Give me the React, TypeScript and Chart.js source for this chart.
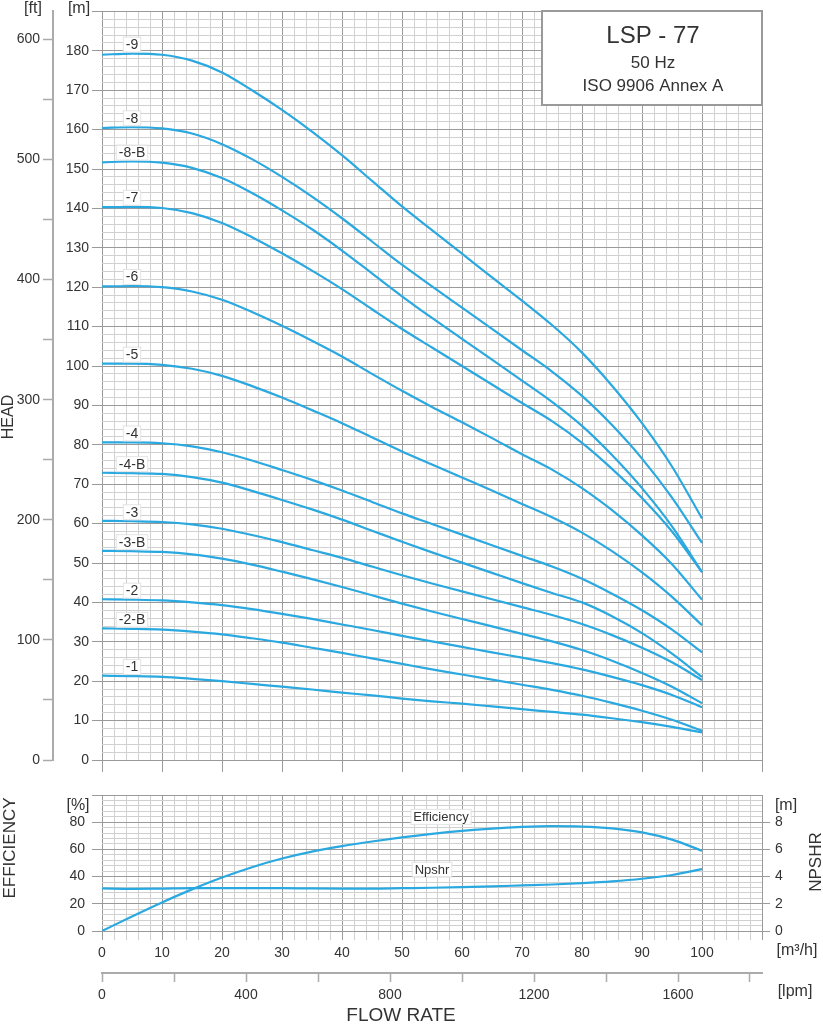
import React, { useEffect, useRef } from 'react';
import { Chart, registerables } from 'chart.js';

Chart.register(...registerables);

// ---------- data ----------
const FLOW_M3H = [0, 5, 10, 15, 20, 25, 30, 35, 40, 45, 50, 55, 60, 65, 70, 75, 80, 85, 90, 95, 100];

const HEAD_9 = [179.0, 179.3, 179.0, 177.5, 174.5, 170.0, 165.0, 159.5, 153.5, 147.0, 140.5, 134.5, 128.5, 122.5, 116.6, 110.4, 103.4, 95.0, 85.5, 74.5, 61.3];
const HEAD_8 = [160.4, 160.6, 160.3, 159.0, 156.3, 152.5, 148.0, 143.0, 137.5, 131.6, 125.7, 120.2, 114.8, 109.4, 104.0, 98.6, 92.4, 85.0, 76.5, 66.6, 55.1];
const HEAD_8B = [151.7, 151.9, 151.6, 150.3, 147.7, 143.9, 139.5, 134.7, 129.3, 123.5, 117.7, 112.2, 106.9, 101.6, 96.3, 90.9, 84.8, 77.4, 69.0, 59.3, 47.7];
const HEAD_7 = [140.3, 140.4, 140.1, 138.8, 136.3, 132.7, 128.6, 124.2, 119.5, 114.4, 109.4, 104.7, 100.0, 95.3, 90.6, 86.0, 80.5, 73.9, 66.5, 58.0, 47.7];
const HEAD_6 = [120.2, 120.3, 120.0, 118.9, 116.8, 113.7, 110.2, 106.4, 102.4, 98.0, 93.7, 89.6, 85.7, 81.7, 77.6, 73.7, 69.0, 63.4, 57.0, 49.7, 40.7];
const HEAD_5 = [100.6, 100.6, 100.3, 99.3, 97.5, 94.9, 92.0, 88.8, 85.5, 81.9, 78.3, 75.0, 71.7, 68.4, 65.0, 61.6, 57.7, 53.0, 47.6, 41.4, 34.2];
const HEAD_4 = [80.6, 80.6, 80.4, 79.6, 78.1, 76.0, 73.6, 71.1, 68.4, 65.5, 62.6, 59.9, 57.2, 54.5, 51.8, 49.1, 46.0, 42.2, 38.0, 33.1, 27.3];
const HEAD_4B = [72.9, 72.8, 72.6, 71.8, 70.4, 68.3, 66.0, 63.6, 61.0, 58.2, 55.4, 52.7, 50.1, 47.5, 44.9, 42.4, 40.0, 36.5, 32.2, 27.0, 21.1];
const HEAD_3 = [60.7, 60.6, 60.4, 59.8, 58.7, 57.1, 55.3, 53.3, 51.3, 49.1, 46.9, 44.8, 42.8, 40.8, 38.8, 36.8, 34.5, 31.7, 28.5, 24.8, 20.3];
const HEAD_3B = [53.1, 53.0, 52.8, 52.2, 51.1, 49.6, 47.8, 45.9, 43.9, 41.8, 39.7, 37.7, 35.8, 33.9, 32.0, 30.1, 27.9, 25.2, 22.1, 18.6, 14.4];
const HEAD_2 = [40.8, 40.7, 40.5, 40.0, 39.3, 38.3, 37.1, 35.8, 34.4, 33.0, 31.5, 30.1, 28.7, 27.3, 26.0, 24.6, 23.0, 21.1, 19.0, 16.5, 13.4];
const HEAD_2B = [33.4, 33.3, 33.1, 32.6, 31.9, 30.9, 29.8, 28.5, 27.2, 25.8, 24.4, 23.0, 21.7, 20.4, 19.1, 17.8, 16.3, 14.5, 12.5, 10.2, 7.4];
const HEAD_1 = [21.4, 21.3, 21.1, 20.6, 20.0, 19.3, 18.6, 17.9, 17.1, 16.4, 15.6, 14.9, 14.3, 13.6, 12.9, 12.2, 11.5, 10.6, 9.6, 8.4, 7.0];

const CURVE_LABELS = ['-9', '-8', '-8-B', '-7', '-6', '-5', '-4', '-4-B', '-3', '-3-B', '-2', '-2-B', '-1'];
const HEAD_SERIES = [HEAD_9, HEAD_8, HEAD_8B, HEAD_7, HEAD_6, HEAD_5, HEAD_4, HEAD_4B, HEAD_3, HEAD_3B, HEAD_2, HEAD_2B, HEAD_1];

const EFFICIENCY = [0, 10.7, 21.0, 30.6, 39.3, 46.9, 53.3, 58.4, 62.4, 65.8, 68.8, 71.4, 73.6, 75.3, 76.5, 77.1, 76.8, 75.4, 72.5, 67.2, 59.0];
const NPSHR = [3.13, 3.1, 3.12, 3.15, 3.15, 3.15, 3.15, 3.13, 3.12, 3.12, 3.15, 3.18, 3.22, 3.28, 3.35, 3.42, 3.52, 3.65, 3.84, 4.12, 4.55];

// tick labels
const HEAD_M_TICKS = [0, 10, 20, 30, 40, 50, 60, 70, 80, 90, 100, 110, 120, 130, 140, 150, 160, 170, 180];
const HEAD_FT_TICKS = [0, 100, 200, 300, 400, 500, 600];
const EFF_TICKS = [0, 20, 40, 60, 80];
const NPSH_TICKS = [0, 2, 4, 6, 8];
const FLOW_TICKS = [0, 10, 20, 30, 40, 50, 60, 70, 80, 90, 100];
const LPM_TICKS = [0, 400, 800, 1200, 1600];
const LPM_TICK_MARKS = [0, 200, 400, 600, 800, 1000, 1200, 1400, 1600, 1800];

const TITLE_LINES = ['LSP - 77', '50 Hz', 'ISO 9906 Annex A'];

// ---------- style ----------
const FONT = "'Liberation Sans', Arial, sans-serif";
const TEXT = '#333333';
const MAJOR = '#9a9a9a';
const MINOR = '#d0d0d0';
const AXIS_LINE = '#ababab';
const CURVE = '#2aa8e0';

const X_MAX = 110;
const M_MAX = 190;
const FT_PER_M = 1 / 0.3048;
const LPM_PER_M3H = 1000 / 60;

Chart.defaults.font.family = FONT;
Chart.defaults.font.size = 14;
Chart.defaults.color = TEXT;

const isMult = (v: number, m: number) => Math.abs(v / m - Math.round(v / m)) < 1e-6;
const near = (arr: number[], v: number) => arr.some((a) => Math.abs(a - v) < 1e-6);

function drawBoxedText(ctx: CanvasRenderingContext2D, text: string, x: number, y: number, font: string) {
  ctx.save();
  ctx.font = font;
  const w = ctx.measureText(text).width;
  ctx.fillStyle = '#ffffff';
  ctx.fillRect(x - w / 2 - 2, y - 7, w + 4, 14);
  ctx.strokeStyle = '#e4e4e4';
  ctx.lineWidth = 1;
  ctx.strokeRect(x - w / 2 - 2.5, y - 7.5, w + 5, 15);
  ctx.fillStyle = TEXT;
  ctx.textAlign = 'center';
  ctx.textBaseline = 'middle';
  ctx.fillText(text, x, y + 0.5);
  ctx.restore();
}

function drawText(ctx: CanvasRenderingContext2D, text: string, x: number, y: number, size: number, rot = 0) {
  ctx.save();
  ctx.font = `${size}px ${FONT}`;
  ctx.fillStyle = TEXT;
  ctx.textAlign = 'center';
  ctx.textBaseline = 'middle';
  ctx.translate(x, y);
  if (rot) ctx.rotate(rot);
  ctx.fillText(text, 0, 0);
  ctx.restore();
}

const topPlugin = {
  id: 'topTexts',
  afterDatasetsDraw(chart: any) {
    const ctx = chart.ctx as CanvasRenderingContext2D;
    chart.data.datasets.forEach((ds: any, i: number) => {
      const meta = chart.getDatasetMeta(i);
      const pt = meta.data[1];
      if (!pt) return;
      drawBoxedText(ctx, ds.label, pt.x, pt.y - 9, `14px ${FONT}`);
    });
  },
  afterDraw(chart: any) {
    const ctx = chart.ctx as CanvasRenderingContext2D;
    drawText(ctx, '[ft]', 33, 9, 16);
    drawText(ctx, '[m]', 79, 9, 16);
    drawText(ctx, 'HEAD', 9, 417, 16, -Math.PI / 2);
    // title box
    ctx.save();
    ctx.fillStyle = '#ffffff';
    ctx.fillRect(542, 11, 220, 94);
    ctx.strokeStyle = '#9a9a9a';
    ctx.lineWidth = 2;
    ctx.strokeRect(542, 11, 220, 94);
    ctx.restore();
    drawText(ctx, TITLE_LINES[0], 653, 36, 24);
    drawText(ctx, TITLE_LINES[1], 653, 63, 17);
    drawText(ctx, TITLE_LINES[2], 653, 86, 17);
  },
};

const BOT_TOP = 775;

const botPlugin = {
  id: 'botTexts',
  afterDatasetsDraw(chart: any) {
    const ctx = chart.ctx as CanvasRenderingContext2D;
    const xs = chart.scales.x;
    const ys = chart.scales.y;
    const y1 = chart.scales.y1;
    drawBoxedText(ctx, 'Efficiency', xs.getPixelForValue(56.5), ys.getPixelForValue(EFFICIENCY[11]) - 17, `13px ${FONT}`);
    drawBoxedText(ctx, 'Npshr', xs.getPixelForValue(55), y1.getPixelForValue(NPSHR[11]) - 18, `13px ${FONT}`);
  },
  afterDraw(chart: any) {
    const ctx = chart.ctx as CanvasRenderingContext2D;
    const o = BOT_TOP;
    drawText(ctx, '[%]', 78, 806 - o, 16);
    drawText(ctx, '[m]', 786, 806 - o, 16);
    drawText(ctx, 'EFFICIENCY', 10, 848 - o, 17, -Math.PI / 2);
    drawText(ctx, 'NPSHR', 816, 862 - o, 17, -Math.PI / 2);
    drawText(ctx, '[m³/h]', 797, 951 - o, 16);
    drawText(ctx, '[lpm]', 795, 992 - o, 16);
    drawText(ctx, 'FLOW RATE', 401, 1016 - o, 19);
  },
};

const gridColor = (step: number) => (c: any) => (isMult(c.tick.value, step) ? MAJOR : MINOR);
const tickColorMajor = (step: number, minor = 'transparent') => (c: any) => (isMult(c.tick.value, step) ? MAJOR : minor);

function makeTopConfig() {
  return {
    type: 'line',
    data: {
      datasets: HEAD_SERIES.map((vals, i) => ({
        label: CURVE_LABELS[i],
        data: FLOW_M3H.map((q, j) => ({ x: q, y: vals[j] })),
        borderColor: CURVE,
        borderWidth: 2.2,
        pointRadius: 0,
        fill: false,
        cubicInterpolationMode: 'monotone',
      })),
    },
    options: {
      animation: false,
      responsive: false,
      events: [],
      layout: { padding: { top: 10, right: 61, left: 0, bottom: 0 } },
      plugins: { legend: { display: false }, tooltip: { enabled: false } },
      scales: {
        x: {
          type: 'linear', position: 'bottom', min: 0, max: X_MAX, weight: 0,
          ticks: { display: false, stepSize: 2, autoSkip: false, maxTicksLimit: 1000 },
          grid: { color: gridColor(10), lineWidth: 1, tickLength: 12, tickColor: tickColorMajor(10) },
          border: { display: false },
          afterFit: (s: any) => { s.height = 15; },
        },
        y: {
          type: 'linear', position: 'left', min: 0, max: M_MAX, weight: 0,
          ticks: {
            stepSize: 2, autoSkip: false, maxTicksLimit: 1000, padding: 3, color: TEXT,
            callback: (v: number) => (near(HEAD_M_TICKS, v) ? String(Math.round(v)) : ''),
          },
          grid: { color: gridColor(10), lineWidth: 1, tickLength: 10, tickColor: tickColorMajor(10) },
          border: { display: false },
          afterFit: (s: any) => { s.width = 49; },
        },
        ft: {
          type: 'linear', position: 'left', min: 0, max: M_MAX * FT_PER_M, weight: 1,
          ticks: {
            stepSize: 50, includeBounds: false, autoSkip: false, padding: 3, color: TEXT,
            callback: (v: number) => (near(HEAD_FT_TICKS, v) ? String(Math.round(v)) : ''),
          },
          grid: { drawOnChartArea: false, tickLength: 10, tickColor: AXIS_LINE, tickWidth: 1.5 },
          border: { display: true, color: AXIS_LINE, width: 2 },
          afterFit: (s: any) => { s.width = 53; },
        },
      },
    },
    plugins: [topPlugin],
  };
}

function makeBotConfig() {
  return {
    type: 'line',
    data: {
      datasets: [
        {
          label: 'Efficiency',
          data: FLOW_M3H.map((q, j) => ({ x: q, y: EFFICIENCY[j] })),
          yAxisID: 'y', borderColor: CURVE, borderWidth: 2.2, pointRadius: 0, fill: false,
          cubicInterpolationMode: 'monotone',
        },
        {
          label: 'Npshr',
          data: FLOW_M3H.map((q, j) => ({ x: q, y: NPSHR[j] })),
          yAxisID: 'y1', borderColor: CURVE, borderWidth: 2.2, pointRadius: 0, fill: false,
          cubicInterpolationMode: 'monotone',
        },
      ],
    },
    options: {
      animation: false,
      responsive: false,
      events: [],
      layout: { padding: { top: 20, right: 0, left: 0, bottom: 0 } },
      plugins: { legend: { display: false }, tooltip: { enabled: false } },
      scales: {
        x: {
          type: 'linear', position: 'bottom', min: 0, max: X_MAX, weight: 0,
          ticks: {
            stepSize: 2, autoSkip: false, maxTicksLimit: 1000, padding: 5, maxRotation: 0, color: TEXT,
            callback: (v: number) => (near(FLOW_TICKS, v) ? String(Math.round(v)) : ''),
          },
          grid: { color: gridColor(10), lineWidth: 1, tickLength: 9, tickColor: tickColorMajor(10, MINOR) },
          border: { display: false },
          afterFit: (s: any) => { s.height = 42; },
        },
        lpm: {
          type: 'linear', position: 'bottom', min: 0, max: X_MAX * LPM_PER_M3H, weight: 1,
          ticks: {
            autoSkip: false, padding: 5, maxRotation: 0, color: TEXT,
            callback: (v: number) => (near(LPM_TICKS, v) ? String(Math.round(v)) : ''),
          },
          afterBuildTicks: (s: any) => { s.ticks = LPM_TICK_MARKS.map((v) => ({ value: v })); },
          grid: { drawOnChartArea: false, tickLength: 9, tickColor: AXIS_LINE, tickWidth: 1.5 },
          border: { display: true, color: AXIS_LINE, width: 2 },
          afterFit: (s: any) => { s.height = 51; },
        },
        y: {
          type: 'linear', position: 'left', min: 0, max: 100,
          ticks: {
            stepSize: 4, autoSkip: false, maxTicksLimit: 1000, padding: 7, color: TEXT,
            callback: (v: number) => (near(EFF_TICKS, v) ? String(Math.round(v)) : ''),
          },
          grid: { color: gridColor(20), lineWidth: 1, tickLength: 10, tickColor: tickColorMajor(20) },
          border: { display: false },
          afterFit: (s: any) => { s.width = 102; },
        },
        y1: {
          type: 'linear', position: 'right', min: 0, max: 10,
          ticks: {
            stepSize: 2, autoSkip: false, padding: 5, color: TEXT,
            callback: (v: number) => (near(NPSH_TICKS, v) ? String(Math.round(v)) : ''),
          },
          grid: {
            drawOnChartArea: false, tickLength: 8,
            tickColor: (c: any) => (near(NPSH_TICKS, c.tick.value) ? MAJOR : 'transparent'),
          },
          border: { display: false },
          afterFit: (s: any) => { s.width = 61; },
        },
      },
    },
    plugins: [botPlugin],
  };
}

export default function App() {
  const topRef = useRef<HTMLCanvasElement>(null);
  const botRef = useRef<HTMLCanvasElement>(null);

  useEffect(() => {
    const top = new Chart(topRef.current as HTMLCanvasElement, makeTopConfig() as any);
    const bot = new Chart(botRef.current as HTMLCanvasElement, makeBotConfig() as any);
    return () => {
      top.destroy();
      bot.destroy();
    };
  }, []);

  return (
    <div style={{ position: 'absolute', left: 0, top: 0, width: 823, height: 1024, background: '#ffffff' }}>
      <canvas ref={topRef} width={823} height={775} style={{ position: 'absolute', left: 0, top: 0, display: 'block' }} />
      <canvas ref={botRef} width={823} height={249} style={{ position: 'absolute', left: 0, top: BOT_TOP, display: 'block' }} />
    </div>
  );
}
